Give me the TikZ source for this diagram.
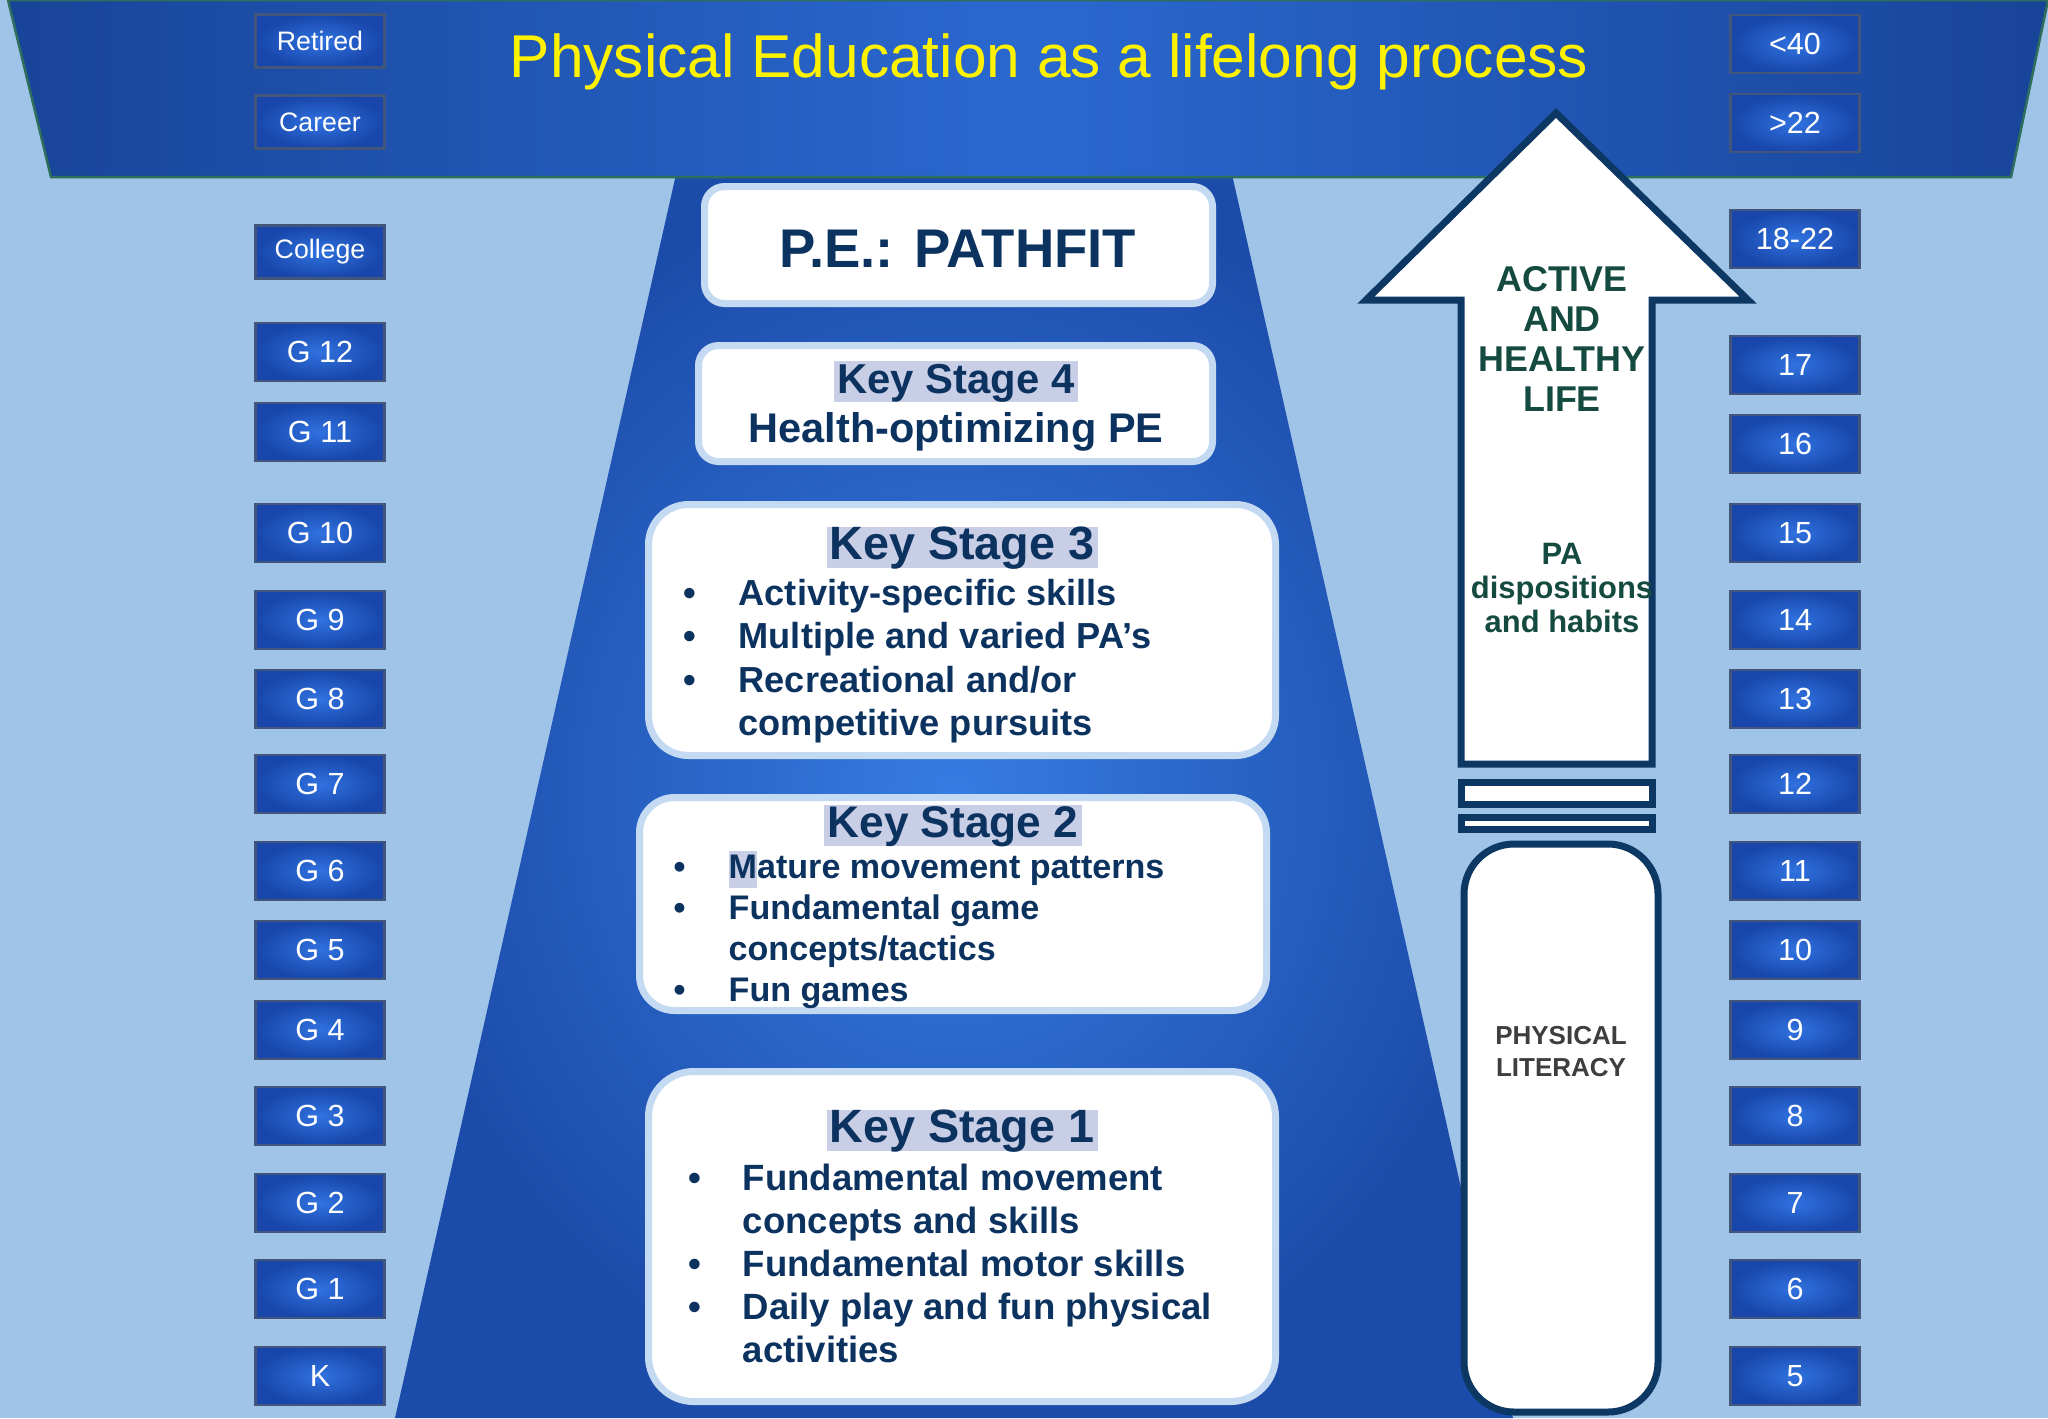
\documentclass[tikz,border=0pt]{standalone}
\usepackage{fontspec}
\setmainfont{Liberation Sans}
\usepackage{xcolor}
\definecolor{skybg}{RGB}{160,196,232}
\definecolor{bandark}{RGB}{24,68,152}
\definecolor{banlight}{RGB}{42,104,208}
\definecolor{banedge}{RGB}{46,110,92}
\definecolor{funlight}{RGB}{54,124,226}
\definecolor{fundark}{RGB}{28,76,170}
\definecolor{agein}{RGB}{48,114,224}
\definecolor{ageout}{RGB}{24,70,170}
\definecolor{ageedge}{RGB}{66,86,124}
\definecolor{stageedge}{RGB}{196,218,242}
\definecolor{navytext}{RGB}{12,50,96}
\definecolor{hilite}{RGB}{200,206,230}
\definecolor{arrowedge}{RGB}{14,56,100}
\definecolor{lifetext}{RGB}{20,74,64}
\definecolor{pltext}{RGB}{62,62,62}
\newcommand{\hlbox}[1]{{\setlength{\fboxsep}{0pt}\colorbox{hilite}{\rule[-0.3em]{0pt}{1.1em}#1}}}

\begin{document}
\begin{tikzpicture}[
  x=0.1mm, y=-0.1mm,
  agebox/.style={draw=ageedge, line width=0.25mm, inner color=agein,
                 outer color=ageout, minimum width=12.9mm, minimum height=5.8mm,
                 inner sep=0pt, text=white, font=\fontsize{8.7}{10}\selectfont},
  wordbox/.style={agebox, minimum height=5.3mm, font=\fontsize{7.6}{9}\selectfont},
  stagebox/.style={draw=stageedge, line width=0.7mm, fill=white, rounded corners=4mm},
  sttitle/.style={fill=hilite, text=navytext, anchor=base, inner xsep=0.3mm,
                  inner ysep=0pt, text height=0.92em, text depth=0.25em},
  stlist/.style={text=navytext, inner sep=0pt, anchor=base west},
  stackc/.style={inner sep=0pt, anchor=base},
  arrowline/.style={draw=arrowedge, line width=0.7mm, fill=white, line join=miter},
]
\fill[skybg] (0,0) rectangle (2048,1418);
\useasboundingbox (0,0) rectangle (2048,1418);

% --- funnel and top band ---
\shade[inner color=funlight, outer color=fundark]
  (677,170) -- (1231,170) -- (1513,1418) -- (395,1418) -- cycle;
\shadedraw[left color=bandark, right color=bandark, middle color=banlight,
           draw=banedge, line width=0.25mm]
  (8,0) -- (2048,0) -- (2011,177) -- (51,177) -- cycle;
\node[text=yellow, font=\fontsize{17.2}{20}\selectfont, anchor=base]
  (title) at (1049,77) {Physical Education as a lifelong process};

% --- school levels ---
\node[wordbox] (retired) at (320,41) {Retired};
\node[wordbox] (career) at (320,122) {Career};
\node[wordbox] (college) at (320,252) {College};
\foreach \y/\lab [count=\i] in {352/G 12, 432/G 11, 533/G 10, 620/G 9,
    699/G 8, 784/G 7, 871/G 6, 950/G 5, 1030/G 4, 1116/G 3, 1203/G 2,
    1289/G 1, 1376/K}
  \node[agebox] (grade\i) at (320,\y) {\lab};

% --- ages ---
\node[agebox] (age40) at (1795,44) {<40};
\node[agebox] (age22) at (1795,123) {>22};
\node[agebox] (age18) at (1795,239) {18-22};
\foreach \y/\lab in {365/17, 444/16, 533/15, 620/14, 699/13, 784/12,
    871/11, 950/10, 1030/9, 1116/8, 1203/7, 1289/6, 1376/5}
  \node[agebox] (age\lab) at (1795,\y) {\lab};

% --- key stages ---
\node[stagebox, rounded corners=2mm, minimum width=50.8mm, minimum height=11.7mm]
  (pathfit) at (958.5,245) {};
\node[text=navytext, anchor=base, font=\bfseries\fontsize{15.5}{18}\selectfont]
  (pathfitlab) at (958,267) {P.E.: PATHFIT};

\node[stagebox, rounded corners=2mm, minimum width=51.4mm, minimum height=11.6mm]
  (ks4) at (955.5,403.5) {};
\node[sttitle, font=\bfseries\fontsize{11.9}{14}\selectfont] (ks4t) at (956,393) {Key Stage 4};
\node[text=navytext, anchor=base, font=\bfseries\fontsize{11.8}{14}\selectfont]
  (ks4sub) at (956,442) {Health-optimizing PE};

\node[stagebox, minimum width=62.7mm, minimum height=25.1mm] (ks3) at (962,630) {};
\node[sttitle, font=\bfseries\fontsize{13.3}{16}\selectfont] (ks3t) at (962,559) {Key Stage 3};
\node[stlist, font=\bfseries\fontsize{10.3}{12.4}\selectfont] (ks3list) at (683,605) {%
  \begin{tabular}[t]{@{}p{5.5mm}@{}l@{}}
  \textbullet & Activity-specific skills\\
  \textbullet & Multiple and varied PA’s\\
  \textbullet & Recreational and/or\\
              & competitive pursuits
  \end{tabular}};

\node[stagebox, rounded corners=3.5mm, minimum width=62.7mm, minimum height=21.3mm]
  (ks2) at (953,904) {};
\node[sttitle, font=\bfseries\fontsize{12.6}{15}\selectfont] (ks2t) at (953,837) {Key Stage 2};
\node[stlist, font=\bfseries\fontsize{9.7}{11.7}\selectfont] (ks2list) at (673,878) {%
  \begin{tabular}[t]{@{}p{5.5mm}@{}l@{}}
  \textbullet & \hlbox{M}ature movement patterns\\
  \textbullet & Fundamental game\\
              & concepts/tactics\\
  \textbullet & Fun games
  \end{tabular}};

\node[stagebox, rounded corners=4.5mm, minimum width=62.7mm, minimum height=33mm]
  (ks1) at (962,1236.5) {};
\node[sttitle, font=\bfseries\fontsize{13.3}{16}\selectfont] (ks1t) at (962,1142) {Key Stage 1};
\node[stlist, font=\bfseries\fontsize{10.4}{12.3}\selectfont] (ks1list) at (688,1190) {%
  \begin{tabular}[t]{@{}p{5.4mm}@{}l@{}}
  \textbullet & Fundamental movement\\
              & concepts and skills\\
  \textbullet & Fundamental motor skills\\
  \textbullet & Daily play and fun physical\\
              & activities
  \end{tabular}};

% --- arrow and physical literacy ---
\draw[arrowline] (1556,113) -- (1748,300) -- (1652,300) -- (1652,764)
  -- (1461,764) -- (1461,300) -- (1366,300) -- cycle;
\draw[arrowline] (1461,782) rectangle (1652,804);
\draw[arrowline] (1461,817) rectangle (1652,829);
\node[draw=arrowedge, line width=0.7mm, fill=white, rounded corners=5mm,
      minimum width=19.4mm, minimum height=56.8mm] (literacy) at (1561,1128) {};

\node[stackc, text=lifetext, font=\bfseries\fontsize{10.2}{11.4}\selectfont]
  (life) at (1562,291) {\begin{tabular}[t]{@{}c@{}}ACTIVE\\AND\\HEALTHY\\LIFE\end{tabular}};
\node[stackc, text=lifetext, font=\bfseries\fontsize{8.8}{9.7}\selectfont]
  (habits) at (1562,564) {\begin{tabular}[t]{@{}c@{}}PA\\dispositions\\and habits\end{tabular}};
\node[stackc, text=pltext, font=\bfseries\fontsize{7.4}{9.1}\selectfont]
  (pllab) at (1561,1044) {\begin{tabular}[t]{@{}c@{}}PHYSICAL\\LITERACY\end{tabular}};
\end{tikzpicture}
\end{document}
